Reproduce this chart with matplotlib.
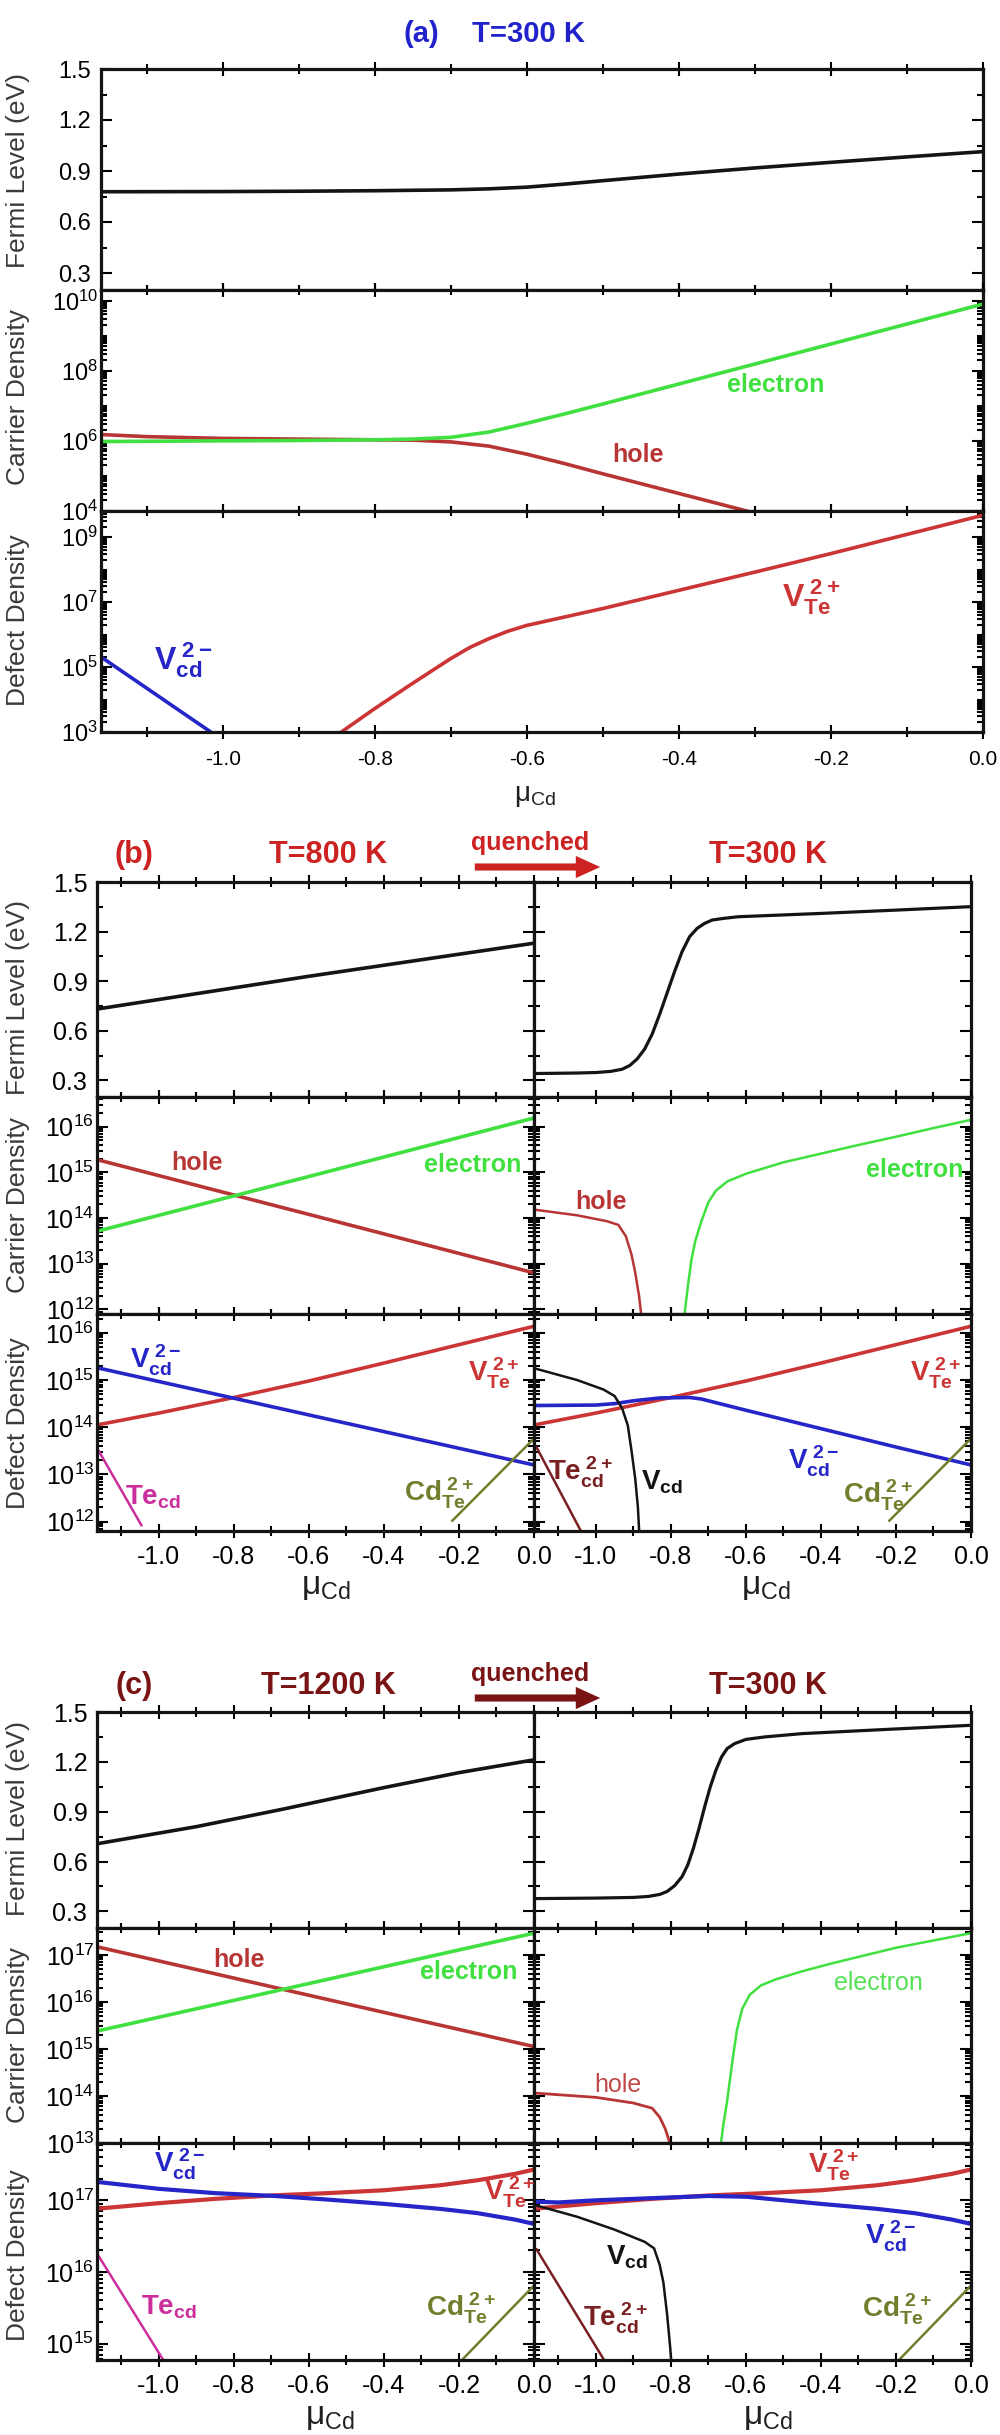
import numpy as np
import matplotlib
matplotlib.use('Agg')
import matplotlib.pyplot as plt
from matplotlib.ticker import FixedLocator, MultipleLocator, FuncFormatter, NullFormatter
from matplotlib.patches import FancyArrowPatch

# ---------------- data (mu_Cd in eV; densities stored as log10) ----------------
# (a) T=300 K
a_fermi_mu = [-1.16, -1.0, -0.9, -0.8, -0.7, -0.65, -0.6, -0.55, -0.5, -0.4, -0.3, -0.2, -0.1, 0.0]
a_fermi_ev = [0.778, 0.779, 0.781, 0.784, 0.789, 0.795, 0.805, 0.823, 0.843, 0.882, 0.918, 0.951, 0.983, 1.014]
a_elec_mu = [-1.16, -1.0, -0.9, -0.8, -0.75, -0.7, -0.65, -0.6, -0.55, -0.5, -0.4, -0.3, -0.2, -0.1, 0.0]
a_elec_log = [5.98, 6.0, 6.01, 6.03, 6.05, 6.1, 6.25, 6.5, 6.77, 7.05, 7.62, 8.19, 8.76, 9.33, 9.9]
a_hole_mu = [-1.16, -1.1, -1.0, -0.9, -0.8, -0.75, -0.7, -0.65, -0.6, -0.55, -0.5, -0.4, -0.3]
a_hole_log = [6.18, 6.12, 6.07, 6.05, 6.03, 6.02, 5.97, 5.85, 5.62, 5.35, 5.06, 4.5, 3.94]
a_vcd_mu = [-1.16, -1.0]
a_vcd_log = [5.31, 2.75]
a_vte_mu = [-0.85, -0.8, -0.75, -0.7, -0.675, -0.65, -0.625, -0.6, -0.5, -0.4, -0.3, -0.2, -0.1, 0.0]
a_vte_log = [2.9, 3.72, 4.5, 5.26, 5.6, 5.87, 6.1, 6.28, 6.8, 7.36, 7.92, 8.49, 9.08, 9.67]

# (b) T=800 K -> quenched to 300 K
b_fermi_hot_mu = [-1.17, -0.6, 0.0]
b_fermi_hot_ev = [0.73, 0.93, 1.13]
b_fermi_q_mu = [-1.16, -1.05, -1.0, -0.96, -0.93, -0.91, -0.89, -0.87, -0.85, -0.83, -0.81, -0.79,
                -0.77, -0.75, -0.73, -0.71, -0.69, -0.66, -0.62, -0.4, -0.2, 0.0]
b_fermi_q_ev = [0.342, 0.345, 0.348, 0.355, 0.368, 0.39, 0.43, 0.49, 0.58, 0.7, 0.83, 0.96,
                1.08, 1.17, 1.22, 1.25, 1.27, 1.28, 1.29, 1.31, 1.33, 1.351]
b_hole_hot_mu = [-1.17, -0.6, 0.0]
b_hole_hot_log = [15.29, 14.08, 12.8]
b_elec_hot_mu = [-1.17, -0.6, 0.0]
b_elec_hot_log = [13.7, 14.91, 16.19]
b_hole_q_mu = [-1.16, -1.05, -0.97, -0.94, -0.92, -0.905, -0.895, -0.885, -0.878]
b_hole_q_log = [14.18, 14.06, 13.93, 13.85, 13.6, 13.2, 12.8, 12.3, 11.8]
b_elec_q_mu = [-0.765, -0.755, -0.745, -0.735, -0.72, -0.7, -0.68, -0.65, -0.6, -0.5, -0.4, -0.3, -0.2, -0.1, 0.0]
b_elec_q_log = [11.8, 12.5, 13.1, 13.5, 13.9, 14.35, 14.6, 14.8, 14.97, 15.22, 15.41, 15.6, 15.78, 15.97, 16.15]
b_vte_mu = [-1.17, -1.0, -0.8, -0.6, -0.4, -0.2, 0.0]
b_vte_log = [14.04, 14.3, 14.63, 14.98, 15.36, 15.75, 16.14]
b_vcd_hot_mu = [-1.17, -0.6, 0.0]
b_vcd_hot_log = [15.27, 14.26, 13.2]
b_tecd_hot_mu = [-1.17, -1.045]
b_tecd_hot_log = [13.63, 11.9]
b_cdte_mu = [-0.22, 0.0]
b_cdte_log = [12.0, 13.76]
b_vcd2_q_mu = [-1.16, -1.0, -0.95, -0.9, -0.83, -0.75, -0.72, -0.6, -0.4, -0.2, 0.0]
b_vcd2_q_log = [14.46, 14.47, 14.5, 14.56, 14.62, 14.63, 14.6, 14.36, 13.97, 13.58, 13.2]
b_vcd0_q_mu = [-1.16, -1.05, -0.98, -0.95, -0.93, -0.915, -0.905, -0.895, -0.888, -0.884]
b_vcd0_q_log = [15.24, 15.0, 14.8, 14.66, 14.4, 14.04, 13.5, 12.9, 12.3, 11.7]
b_tecd_q_mu = [-1.16, -1.04]
b_tecd_q_log = [13.6, 11.8]

# (c) T=1200 K -> quenched to 300 K
c_fermi_hot_mu = [-1.17, -0.9, -0.67, -0.4, -0.2, 0.0]
c_fermi_hot_ev = [0.705, 0.81, 0.915, 1.045, 1.135, 1.212]
c_fermi_q_mu = [-1.16, -1.0, -0.9, -0.86, -0.83, -0.81, -0.79, -0.77, -0.755, -0.74, -0.725, -0.71,
                -0.695, -0.68, -0.665, -0.65, -0.63, -0.6, -0.55, -0.45, -0.2, 0.0]
c_fermi_q_ev = [0.377, 0.38, 0.384, 0.39, 0.402, 0.42, 0.455, 0.51, 0.58, 0.68, 0.8, 0.93,
                1.05, 1.15, 1.23, 1.28, 1.31, 1.335, 1.35, 1.37, 1.398, 1.42]
c_hole_hot_mu = [-1.17, -0.6, 0.0]
c_hole_hot_log = [17.18, 16.14, 15.05]
c_elec_hot_mu = [-1.17, -0.6, 0.0]
c_elec_hot_log = [15.37, 16.39, 17.46]
c_hole_q_mu = [-1.16, -1.0, -0.9, -0.85, -0.83, -0.815, -0.805, -0.798]
c_hole_q_log = [14.06, 13.97, 13.85, 13.74, 13.55, 13.3, 13.05, 12.9]
c_elec_q_mu = [-0.668, -0.66, -0.65, -0.635, -0.624, -0.61, -0.59, -0.56, -0.52, -0.45, -0.37, -0.2, 0.0]
c_elec_q_log = [12.9, 13.4, 13.9, 14.8, 15.4, 15.85, 16.15, 16.35, 16.48, 16.65, 16.82, 17.15, 17.46]
c_vte_mu = [-1.17, -1.0, -0.85, -0.69, -0.55, -0.4, -0.25, -0.15, -0.05, 0.0]
c_vte_log = [16.88, 16.96, 17.02, 17.07, 17.1, 17.14, 17.21, 17.28, 17.37, 17.43]
c_vcd_hot_mu = [-1.17, -1.0, -0.85, -0.69, -0.55, -0.4, -0.25, -0.15, -0.05, 0.0]
c_vcd_hot_log = [17.26, 17.16, 17.1, 17.06, 17.01, 16.95, 16.88, 16.82, 16.73, 16.67]
c_tecd_hot_mu = [-1.17, -0.98]
c_tecd_hot_log = [16.3, 14.7]
c_cdte_mu = [-0.205, 0.0]
c_cdte_log = [14.7, 15.81]
c_vcd2_q_mu = [-1.16, -1.1, -1.0, -0.9, -0.8, -0.7, -0.6, -0.5, -0.4, -0.25, -0.15, -0.05, 0.0]
c_vcd2_q_log = [16.98, 16.97, 17.0, 17.02, 17.04, 17.06, 17.05, 17.0, 16.95, 16.88, 16.82, 16.73, 16.67]
c_vcd0_q_mu = [-1.16, -1.05, -0.95, -0.87, -0.845, -0.83, -0.82, -0.81, -0.802, -0.797]
c_vcd0_q_log = [16.93, 16.77, 16.59, 16.42, 16.33, 16.1, 15.85, 15.4, 14.95, 14.6]
c_tecd_q_mu = [-1.16, -0.97]
c_tecd_q_log = [16.33, 14.7]

mu_ticks = [-1.0, -0.8, -0.6, -0.4, -0.2, 0.0]
fermi_ticks = [0.3, 0.6, 0.9, 1.2, 1.5]

# ---------------- style ----------------
W, H = 1000, 2435
plt.rcParams['font.family'] = ['Liberation Sans', 'DejaVu Sans']
plt.rcParams['axes.unicode_minus'] = False
plt.rcParams['mathtext.default'] = 'regular'

BLACK = '#141414'
GREEN = '#3fe03f'
HOLE = '#b83535'
RED = '#cc3535'
BLUE = '#2626c8'
MAGENTA = '#cc2e9c'
MAROON = '#7a1f22'
OLIVE = '#6f7f2c'
AXLAB = '#3a3a3a'

fig = plt.figure(figsize=(W / 100, H / 100), dpi=100)


def add_ax(x0, x1, y0, y1):
    return fig.add_axes([x0 / W, 1 - y1 / H, (x1 - x0) / W, (y1 - y0) / H])


def put(x, y, s, color, size=18, ha='center', weight='bold', **kw):
    fig.text(x / W, 1 - y / H, s, color=color, fontsize=size, ha=ha, va='center',
             weight=weight, **kw)


def log_fmt(v, pos):
    return r'$10^{%d}$' % int(round(np.log10(v)))


def log_minor(lo, hi, extra=()):
    ticks = [float(e) for e in extra]
    for d in range(int(np.floor(lo)), int(np.ceil(hi)) + 1):
        ticks += [k * 10.0 ** d for k in range(2, 10)]
    return ticks


def setup(ax, ylim, kind='log', major=None, extra=(), xlabels=False, ylabels=True,
          xmin=-1.165, xsize=18, ysize=18, xpad=5):
    ax.set_xlim(xmin, 0.0)
    ax.xaxis.set_major_locator(FixedLocator(mu_ticks))
    ax.xaxis.set_minor_locator(MultipleLocator(0.1))
    ax.xaxis.set_major_formatter(FuncFormatter(lambda v, p: '%.1f' % v))
    if kind == 'fermi':
        ax.set_ylim(*ylim)
        ax.yaxis.set_major_locator(FixedLocator(fermi_ticks))
        ax.yaxis.set_minor_locator(MultipleLocator(0.15))
        ax.yaxis.set_major_formatter(FuncFormatter(lambda v, p: '%.1f' % v))
        ypad = 7
    else:
        ax.set_yscale('log')
        ax.set_ylim(10.0 ** ylim[0], 10.0 ** ylim[1])
        ax.yaxis.set_major_locator(FixedLocator([10.0 ** e for e in major]))
        ax.yaxis.set_minor_locator(FixedLocator(log_minor(ylim[0], ylim[1],
                                                          [10.0 ** e for e in extra])))
        ax.yaxis.set_major_formatter(FuncFormatter(log_fmt))
        ax.yaxis.set_minor_formatter(NullFormatter())
        ypad = 2
    ax.tick_params(which='both', top=True, right=True, width=1.5,
                   labelbottom=xlabels, labelleft=ylabels)
    ax.tick_params(axis='x', which='both', direction='inout')
    ax.tick_params(axis='y', which='both', direction='in')
    ax.tick_params(axis='x', which='major', length=10)
    ax.tick_params(axis='x', which='minor', length=7)
    ax.tick_params(axis='y', which='major', length=8)
    ax.tick_params(axis='y', which='minor', length=4.5)
    ax.tick_params(axis='x', labelsize=xsize, pad=xpad)
    ax.tick_params(axis='y', labelsize=ysize, pad=ypad)
    for s in ax.spines.values():
        s.set_linewidth(2.3)
        s.set_color(BLACK)


def curve(ax, mu, vals, color, lw=2.6, log=True):
    y = 10.0 ** np.array(vals) if log else np.array(vals)
    ax.plot(mu, y, color=color, lw=lw, solid_capstyle='butt')


def ylab(y, s):
    fig.text(18 / W, 1 - y / H, s, rotation=90, ha='center', va='center',
             fontsize=19, color=AXLAB)


def mu_label(x, y, size=24):
    put(x, y, r'$\mu_{Cd}$', '#202020', size=size, weight='normal')


def arrow(x0, x1, y, color):
    fig.add_artist(FancyArrowPatch((x0 / W, 1 - y / H), (x1 / W, 1 - y / H),
                                   transform=fig.transFigure,
                                   arrowstyle='simple,head_width=1.0,head_length=1.1,tail_width=0.32',
                                   mutation_scale=16, color=color, lw=0))


# ---------------- panel (a) ----------------
ax1 = add_ax(101, 983, 69, 290)
ax2 = add_ax(101, 983, 290, 511)
ax3 = add_ax(101, 983, 511, 732)
setup(ax1, (0.2, 1.5), kind='fermi', xmin=-1.16, ysize=17)
setup(ax2, (4, 10.3), major=[4, 6, 8, 10], extra=[5, 7, 9], xmin=-1.16, ysize=17)
setup(ax3, (3, 9.8), major=[3, 5, 7, 9], extra=[4, 6, 8], xlabels=True, xmin=-1.16,
      xsize=15, ysize=17, xpad=8)

curve(ax1, a_fermi_mu, a_fermi_ev, BLACK, log=False)
curve(ax2, a_hole_mu, a_hole_log, HOLE)
curve(ax2, a_elec_mu, a_elec_log, GREEN)
curve(ax3, a_vcd_mu, a_vcd_log, BLUE)
curve(ax3, a_vte_mu, a_vte_log, RED)

put(421, 34, '(a)', '#2222cc', size=21)
put(529, 34, 'T=300 K', '#2222cc', size=21)
put(776, 385, 'electron', GREEN, size=18)
put(638, 455, 'hole', HOLE, size=18)
put(154, 660, r'$V_{cd}^{\;2-}$', BLUE, size=23, ha='left')
put(782, 597, r'$V_{Te}^{\;2+}$', RED, size=23, ha='left')
ylab(170, 'Fermi Level (eV)')
ylab(397, 'Carrier Density')
ylab(620, 'Defect Density')
mu_label(535, 796, size=20)


# ---------------- panels (b) and (c) ----------------
def quench_panel(top, fermi_bot, car_bot, def_bot, car_lim, car_major, def_lim, def_major):
    axes = []
    for x0, x1, yl in ((97, 534, True), (534, 971, False)):
        f = add_ax(x0, x1, top, fermi_bot)
        c = add_ax(x0, x1, fermi_bot, car_bot)
        d = add_ax(x0, x1, car_bot, def_bot)
        setup(f, (0.2, 1.5), kind='fermi', ylabels=yl)
        setup(c, car_lim, major=car_major, ylabels=yl)
        setup(d, def_lim, major=def_major, xlabels=True, ylabels=yl)
        axes.append((f, c, d))
    return axes


(bf1, bc1, bd1), (bf2, bc2, bd2) = quench_panel(882, 1097, 1314, 1531,
                                               (11.9, 16.65), [12, 13, 14, 15, 16],
                                               (11.8, 16.4), [12, 13, 14, 15, 16])
curve(bf1, b_fermi_hot_mu, b_fermi_hot_ev, BLACK, log=False)
curve(bf2, b_fermi_q_mu, b_fermi_q_ev, BLACK, log=False, lw=2.3)
curve(bc1, b_hole_hot_mu, b_hole_hot_log, HOLE)
curve(bc1, b_elec_hot_mu, b_elec_hot_log, GREEN)
curve(bc2, b_hole_q_mu, b_hole_q_log, HOLE, lw=1.8)
curve(bc2, b_elec_q_mu, b_elec_q_log, GREEN, lw=1.8)
curve(bd1, b_vte_mu, b_vte_log, RED)
curve(bd1, b_vcd_hot_mu, b_vcd_hot_log, BLUE)
curve(bd1, b_tecd_hot_mu, b_tecd_hot_log, MAGENTA, lw=1.8)
curve(bd1, b_cdte_mu, b_cdte_log, OLIVE, lw=1.8)
curve(bd2, b_vte_mu, b_vte_log, RED)
curve(bd2, b_vcd2_q_mu, b_vcd2_q_log, BLUE)
curve(bd2, b_vcd0_q_mu, b_vcd0_q_log, BLACK, lw=1.8)
curve(bd2, b_tecd_q_mu, b_tecd_q_log, MAROON, lw=1.8)
curve(bd2, b_cdte_mu, b_cdte_log, OLIVE, lw=1.8)

BRED = '#cc2222'
put(134, 855, '(b)', BRED, size=22)
put(328, 855, 'T=800 K', BRED, size=22)
put(530, 843, 'quenched', BRED, size=18)
arrow(472, 603, 867, BRED)
put(768, 855, 'T=300 K', BRED, size=22)
put(197, 1163, 'hole', HOLE, size=18)
put(473, 1165, 'electron', GREEN, size=18)
put(601, 1202, 'hole', HOLE, size=18)
put(915, 1170, 'electron', GREEN, size=18)
put(130, 1360, r'$V_{cd}^{\;2-}$', BLUE, size=20, ha='left')
put(468, 1373, r'$V_{Te}^{\;2+}$', RED, size=20, ha='left')
put(125, 1497, r'$Te_{cd}$', MAGENTA, size=20, ha='left')
put(404, 1493, r'$Cd_{Te}^{\;2+}$', OLIVE, size=20, ha='left')
put(910, 1373, r'$V_{Te}^{\;2+}$', RED, size=20, ha='left')
put(548, 1472, r'$Te_{cd}^{\;2+}$', MAROON, size=20, ha='left')
put(641, 1482, r'$V_{cd}$', BLACK, size=20, ha='left')
put(788, 1461, r'$V_{cd}^{\;2-}$', BLUE, size=20, ha='left')
put(843, 1495, r'$Cd_{Te}^{\;2+}$', OLIVE, size=20, ha='left')
ylab(997, 'Fermi Level (eV)')
ylab(1205, 'Carrier Density')
ylab(1423, 'Defect Density')
mu_label(326, 1586)
mu_label(766, 1586)

(cf1, cc1, cd1), (cf2, cc2, cd2) = quench_panel(1712, 1928, 2143, 2360,
                                               (13, 17.57), [13, 14, 15, 16, 17],
                                               (14.77, 17.8), [15, 16, 17])
curve(cf1, c_fermi_hot_mu, c_fermi_hot_ev, BLACK, log=False)
curve(cf2, c_fermi_q_mu, c_fermi_q_ev, BLACK, log=False, lw=2.3)
curve(cc1, c_hole_hot_mu, c_hole_hot_log, HOLE)
curve(cc1, c_elec_hot_mu, c_elec_hot_log, GREEN)
curve(cc2, c_hole_q_mu, c_hole_q_log, HOLE, lw=2.0)
curve(cc2, c_elec_q_mu, c_elec_q_log, GREEN, lw=1.8)
curve(cd1, c_vte_mu, c_vte_log, RED, lw=3.0)
curve(cd1, c_vcd_hot_mu, c_vcd_hot_log, BLUE, lw=3.0)
curve(cd1, c_tecd_hot_mu, c_tecd_hot_log, MAGENTA, lw=1.8)
curve(cd1, c_cdte_mu, c_cdte_log, OLIVE, lw=1.8)
curve(cd2, c_vte_mu, c_vte_log, RED, lw=3.0)
curve(cd2, c_vcd2_q_mu, c_vcd2_q_log, BLUE, lw=3.0)
curve(cd2, c_vcd0_q_mu, c_vcd0_q_log, BLACK, lw=1.8)
curve(cd2, c_tecd_q_mu, c_tecd_q_log, MAROON, lw=1.8)
curve(cd2, c_cdte_mu, c_cdte_log, OLIVE, lw=1.8)

CRED = '#7a1414'
put(134, 1686, '(c)', CRED, size=22)
put(328, 1686, 'T=1200 K', CRED, size=22)
put(530, 1674, 'quenched', CRED, size=18)
arrow(472, 603, 1698, CRED)
put(768, 1686, 'T=300 K', CRED, size=22)
put(239, 1960, 'hole', HOLE, size=18)
put(469, 1972, 'electron', GREEN, size=18)
put(878, 1983, 'electron', '#55e055', size=18, weight='normal')
put(618, 2085, 'hole', '#c04a4a', size=18, weight='normal')
put(154, 2164, r'$V_{cd}^{\;2-}$', BLUE, size=20, ha='left')
put(484, 2192, r'$V_{Te}^{\;2+}$', RED, size=20, ha='left')
put(141, 2307, r'$Te_{cd}$', MAGENTA, size=20, ha='left')
put(426, 2308, r'$Cd_{Te}^{\;2+}$', OLIVE, size=20, ha='left')
put(808, 2165, r'$V_{Te}^{\;2+}$', RED, size=20, ha='left')
put(865, 2236, r'$V_{cd}^{\;2-}$', BLUE, size=20, ha='left')
put(606, 2257, r'$V_{cd}$', BLACK, size=20, ha='left')
put(583, 2318, r'$Te_{cd}^{\;2+}$', MAROON, size=20, ha='left')
put(862, 2309, r'$Cd_{Te}^{\;2+}$', OLIVE, size=20, ha='left')
ylab(1818, 'Fermi Level (eV)')
ylab(2035, 'Carrier Density')
ylab(2255, 'Defect Density')
mu_label(330, 2416)
mu_label(768, 2416)

fig.savefig('out.png', dpi=100)
